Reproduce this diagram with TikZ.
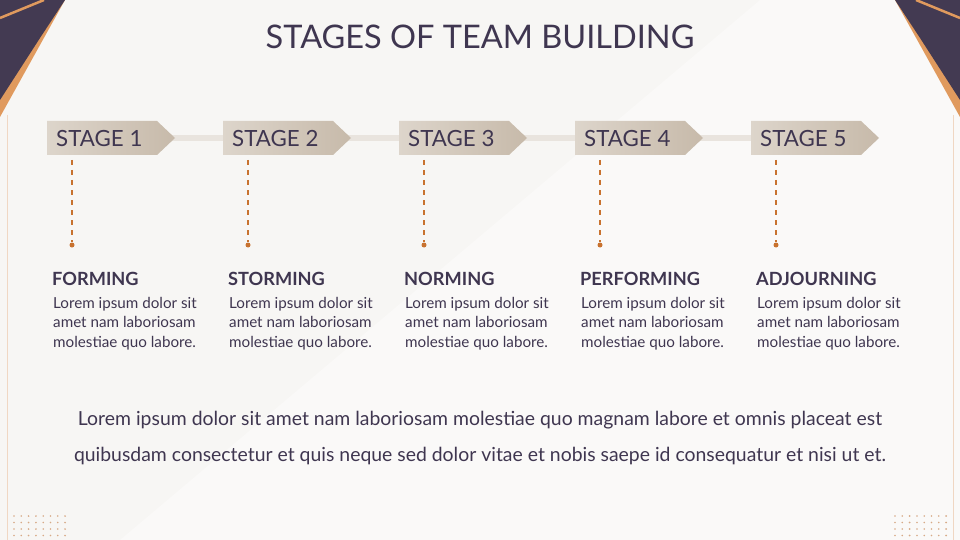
\documentclass[tikz,border=0pt]{standalone}
\usepackage{fontspec}
\setmainfont{Lato}
\begin{document}
\begin{tikzpicture}[x=1pt,y=-1pt,
  stage/.style={inner sep=0pt,font=\fontsize{22.3}{22}\selectfont,text=ink},
  head/.style={anchor=west,font=\bfseries\fontsize{18.2}{18}\selectfont,text=ink,inner sep=0pt},
  body/.style={anchor=north west,align=left,font=\fontsize{15.2}{19.5}\selectfont,text=ink,inner sep=0pt}]
\definecolor{ink}{HTML}{3F3650}
\definecolor{dark}{HTML}{433A52}
\definecolor{orng}{HTML}{E09A5E}
\definecolor{rust}{HTML}{C8722F}
\definecolor{boxa}{HTML}{DDD5CB}
\definecolor{boxb}{HTML}{C7BAAA}
\definecolor{bar}{HTML}{E9E4DE}
\useasboundingbox (0,0) rectangle (960,540);
\fill[color={rgb,255:red,247;green,246;blue,244}] (0,0) rectangle (960,540);
\fill[color={rgb,255:red,250;green,249;blue,248}] (120,540) -- (760,0) -- (960,0) -- (960,540) -- cycle;
% corners
\fill[orng] (0,0) -- (65,0) -- (0,117) -- cycle;
\fill[dark] (0,0) -- (65,0) -- (40,38) -- (0,100) -- cycle;
\draw[orng,line width=2.5pt] (0,18) -- (44,0);
\fill[orng] (960,0) -- (895,0) -- (960,117) -- cycle;
\fill[dark] (960,0) -- (895,0) -- (920,38) -- (960,100) -- cycle;
\draw[orng,line width=2.5pt] (960,18) -- (916,0);
\draw[color={rgb,255:red,240;green,215;blue,195},line width=0.8pt] (7,115) -- (7,540);
\draw[color={rgb,255:red,240;green,215;blue,195},line width=0.8pt] (953,115) -- (953,540);
% dots
\foreach \ox in {14,895}{\foreach \i in {0,...,7}{\foreach \j in {0,...,3}{
  \fill[color={rgb,255:red,215;green,170;blue,135}] (\ox+\i*7.3,516+\j*6.5) circle (0.9);}}}
\node[font=\fontsize{32.5}{32}\selectfont,text=ink] (title) at (480,37) {STAGES OF TEAM BUILDING};
\draw[bar,line width=6pt] (160,138) -- (760,138);
\foreach \n/\h/\x in {1/FORMING/47,2/STORMING/223,3/NORMING/399,4/PERFORMING/575,5/ADJOURNING/751}{
  \shade[left color=boxa,right color=boxb] (\x,121) -- (\x+110,121) -- (\x+128,138) -- (\x+110,155) -- (\x,155) -- cycle;
  \node[stage,anchor=west] (s\n) at (\x+9,139) {STAGE \n};
  \coordinate (t\n) at (\x+25,160);
  \node[circle,fill=rust,inner sep=0pt,minimum size=5pt] (d\n) at (\x+25,245) {};
  \draw[rust,line width=1.3pt,dash pattern=on 5pt off 5pt] (t\n) -- (d\n);
  \node[head] (h\n) at (\x+5,279) {\h};
  \node[body] (b\n) at (\x+6,297) {Lorem ipsum dolor sit\\amet nam laboriosam\\molestiae quo labore.};
}
\node[align=center,font=\fontsize{19.4}{36}\selectfont,text=ink] (para) at (480,438) {Lorem ipsum dolor sit amet nam laboriosam molestiae quo magnam labore et omnis placeat est\\quibusdam consectetur et quis neque sed dolor vitae et nobis saepe id consequatur et nisi ut et.};
\end{tikzpicture}
\end{document}
